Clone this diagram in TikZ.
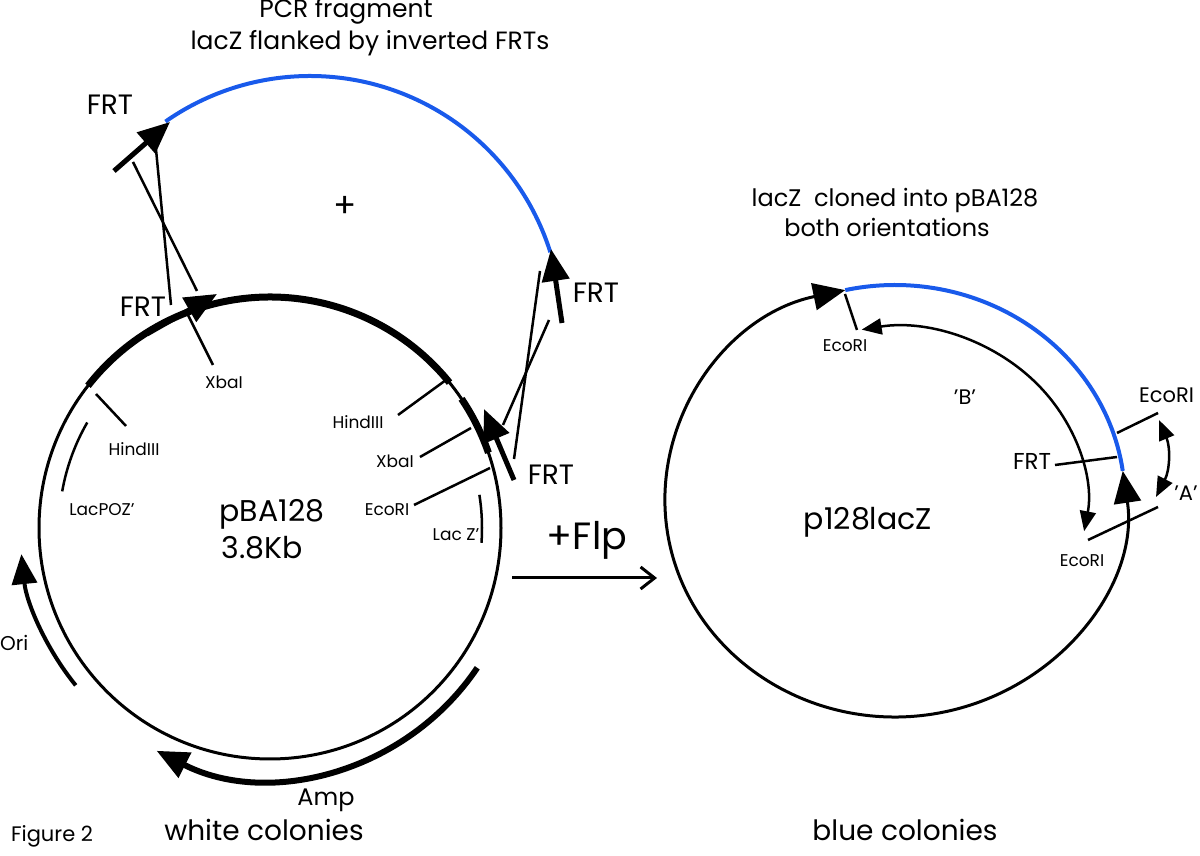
\documentclass[tikz,border=0pt]{standalone}
\usepackage{fontspec}
\setmainfont{Poppins}
\usetikzlibrary{arrows.meta}
\definecolor{dnablue}{RGB}{25,90,235}
\begin{document}
\begin{tikzpicture}[x=1pt,y=1pt,
  lbl/.style={inner sep=0pt,font=\fontsize{28}{30}\selectfont},
  sml/.style={inner sep=0pt,font=\fontsize{17}{19}\selectfont},
  big/.style={inner sep=0pt,font=\fontsize{30}{32}\selectfont},
  ring/.style={line width=3pt},
  thick arc/.style={line width=7pt},
  thin/.style={line width=2.5pt},
  ltri/.style={line width=5pt,-{Triangle[length=32pt,width=27pt]}},
  stri/.style={{Triangle[length=20pt,width=16pt]}-{Triangle[length=20pt,width=16pt]}},
  blueline/.style={dnablue,line width=4pt}]
\useasboundingbox (0,0) rectangle (1200,856);
% ---------- left plasmid ----------
\coordinate (L) at (270,328);
\draw[ring] (L) circle[radius=231];
\draw[thick arc] ([shift={(L)}]39:231) arc[start angle=39,end angle=142,radius=231];
\draw[thick arc] ([shift={(L)}]19:231) arc[start angle=19,end angle=34,radius=231];
\draw[thin] ([shift={(L)}]150:211) arc[start angle=150,end angle=170,radius=211];
\draw[thin] ([shift={(L)}]9:212) arc[start angle=9,end angle=-4,radius=212];
\draw[line width=4pt,-{Triangle[length=30pt,width=25pt]}] ([shift={(L)}]219:250) arc[start angle=219,end angle=186,radius=250];
\draw[line width=6pt,-{Triangle[length=32pt,width=27pt]}] ([shift={(L)}]-34:250) arc[start angle=-34,end angle=-117,radius=250];
\coordinate (xa1) at (188,541); \coordinate (xa2) at (213,491);
\coordinate (ha1) at (96,462); \coordinate (ha2) at (126,430);
\coordinate (hb1) at (446,476); \coordinate (hb2) at (398,441);
\coordinate (xb1) at (471,428); \coordinate (xb2) at (420,399);
\coordinate (eb1) at (490,388); \coordinate (eb2) at (414,351);
\draw[thin] (xa1) -- (xa2); \draw[thin] (ha1) -- (ha2);
\draw[thin] (hb1) -- (hb2); \draw[thin] (xb1) -- (xb2); \draw[thin] (eb1) -- (eb2);
\node[sml] (xbaA) at (224,474) {XbaI};
\node[sml] (hinA) at (134,407) {HindIII};
\node[sml] (lacpoz) at (102,346) {LacPOZ'};
\node[sml] (hinB) at (358,434) {HindIII};
\node[sml] (xbaB) at (395,395) {XbaI};
\node[sml] (ecoB) at (387,346) {EcoRI};
\node[sml] (laczp) at (456,321) {Lac Z'};
\node[big] (pba) at (272,342) {pBA128};
\node[big] (kb) at (262,308) {3.8Kb};
\node[inner sep=0pt,font=\fontsize{20}{22}\selectfont,anchor=west] (ori) at (0,213) {Ori};
\node[inner sep=0pt,font=\fontsize{24}{26}\selectfont] (amp) at (326,56) {Amp};
\node[lbl] (white) at (264,26) {white colonies};
\node[inner sep=0pt,font=\fontsize{21}{23}\selectfont] (fig) at (52,20) {Figure 2};
% ---------- PCR fragment ----------
\coordinate (P) at (310,528);
\draw[blueline] ([shift={(P)}]125:252) arc[start angle=125,end angle=17.5,radius=252];
\coordinate (f1s) at (114,685); \coordinate (f1t) at (170,734);
\coordinate (f2s) at (147,522); \coordinate (f2t) at (217,562);
\coordinate (f3s) at (562,533); \coordinate (f3t) at (551,607);
\coordinate (f4s) at (514,376); \coordinate (f4t) at (484,447);
\draw[ltri] (f1s) -- (f1t);
\draw[ltri] (f2s) -- (f2t);
\draw[ltri] (f3s) -- (f3t);
\draw[ltri] (f4s) -- (f4t);
\coordinate (c1a) at (155,717); \coordinate (c1b) at (171,551);
\coordinate (c2a) at (133,694); \coordinate (c2b) at (197,565);
\coordinate (c3a) at (540,585); \coordinate (c3b) at (514,397);
\coordinate (c4a) at (549,536); \coordinate (c4b) at (503,431);
\draw[thin] (c1a) -- (c1b); \draw[thin] (c2a) -- (c2b);
\draw[thin] (c3a) -- (c3b); \draw[thin] (c4a) -- (c4b);
\node[lbl] (frt1) at (110,751) {FRT};
\node[lbl] (frt2) at (143,549) {FRT};
\node[lbl] (frt3) at (596,563) {FRT};
\node[lbl] (frt4) at (551,381) {FRT};
\node[inner sep=0pt,font=\fontsize{34}{36}\selectfont] (plus) at (345,649) {+};
\node[inner sep=0pt,font=\fontsize{25}{27}\selectfont] (t1) at (346,845) {PCR fragment};
\node[inner sep=0pt,font=\fontsize{25}{27}\selectfont] (t2) at (370,813) {lacZ flanked by inverted FRTs};
% ---------- Flp arrow ----------
\coordinate (fa) at (512,278); \coordinate (fb) at (657,278);
\draw[line width=3pt,-{Straight Barb[length=14pt,width=22pt,line width=3pt]}] (fa) -- (fb);
\node[inner sep=0pt,font=\fontsize{38}{40}\selectfont] (flp) at (587,316) {+Flp};
% ---------- right plasmid ----------
\coordinate (R) at (895,355);
\draw[blueline] ([shift={(R)}]102.5:230 and 216) arc[start angle=102.5,end angle=8,x radius=230,y radius=216];
\draw[ring,{Triangle[length=32pt,width=27pt]}-{Triangle[length=32pt,width=27pt]}] ([shift={(R)}]102.5:230 and 216) arc[start angle=102.5,end angle=368,x radius=230,y radius=216];
\draw[thin,stri] ([shift={(R)}]100:192 and 174) arc[start angle=100,end angle=-10,x radius=192,y radius=174];
\coordinate (e1a) at (845,562); \coordinate (e1b) at (857,526);
\coordinate (e2a) at (1117,423); \coordinate (e2b) at (1158,443);
\coordinate (e3a) at (1088,316); \coordinate (e3b) at (1158,349);
\coordinate (aa) at (1159,436); \coordinate (ab) at (1156,359);
\coordinate (fr1) at (1055,391); \coordinate (fr2) at (1117,399);
\draw[thin] (e1a) -- (e1b); \draw[thin] (e2a) -- (e2b); \draw[thin] (e3a) -- (e3b);
\draw[thin] (fr1) -- (fr2);
\draw[thin,stri] (aa) to[bend left=25] (ab);
\node[sml] (eco1) at (845,510) {EcoRI};
\node[inner sep=0pt,font=\fontsize{21}{23}\selectfont,anchor=west] (eco2) at (1139,461) {EcoRI};
\node[sml] (eco3) at (1082,295) {EcoRI};
\node[inner sep=0pt,font=\fontsize{23}{25}\selectfont] (frt5) at (1032,395) {FRT};
\node[inner sep=0pt,font=\fontsize{21}{23}\selectfont] (A) at (1186,363) {'A'};
\node[inner sep=0pt,font=\fontsize{21}{23}\selectfont] (B) at (965,459) {'B'};
\node[big] (p128) at (868,334) {p128lacZ};
\node[lbl] (blue) at (905,26) {blue colonies};
\node[inner sep=0pt,font=\fontsize{24}{26}\selectfont] (t3) at (895,656) {lacZ\ \ cloned into pBA128};
\node[inner sep=0pt,font=\fontsize{24}{26}\selectfont] (t4) at (887,629) {both orientations};
\end{tikzpicture}
\end{document}
